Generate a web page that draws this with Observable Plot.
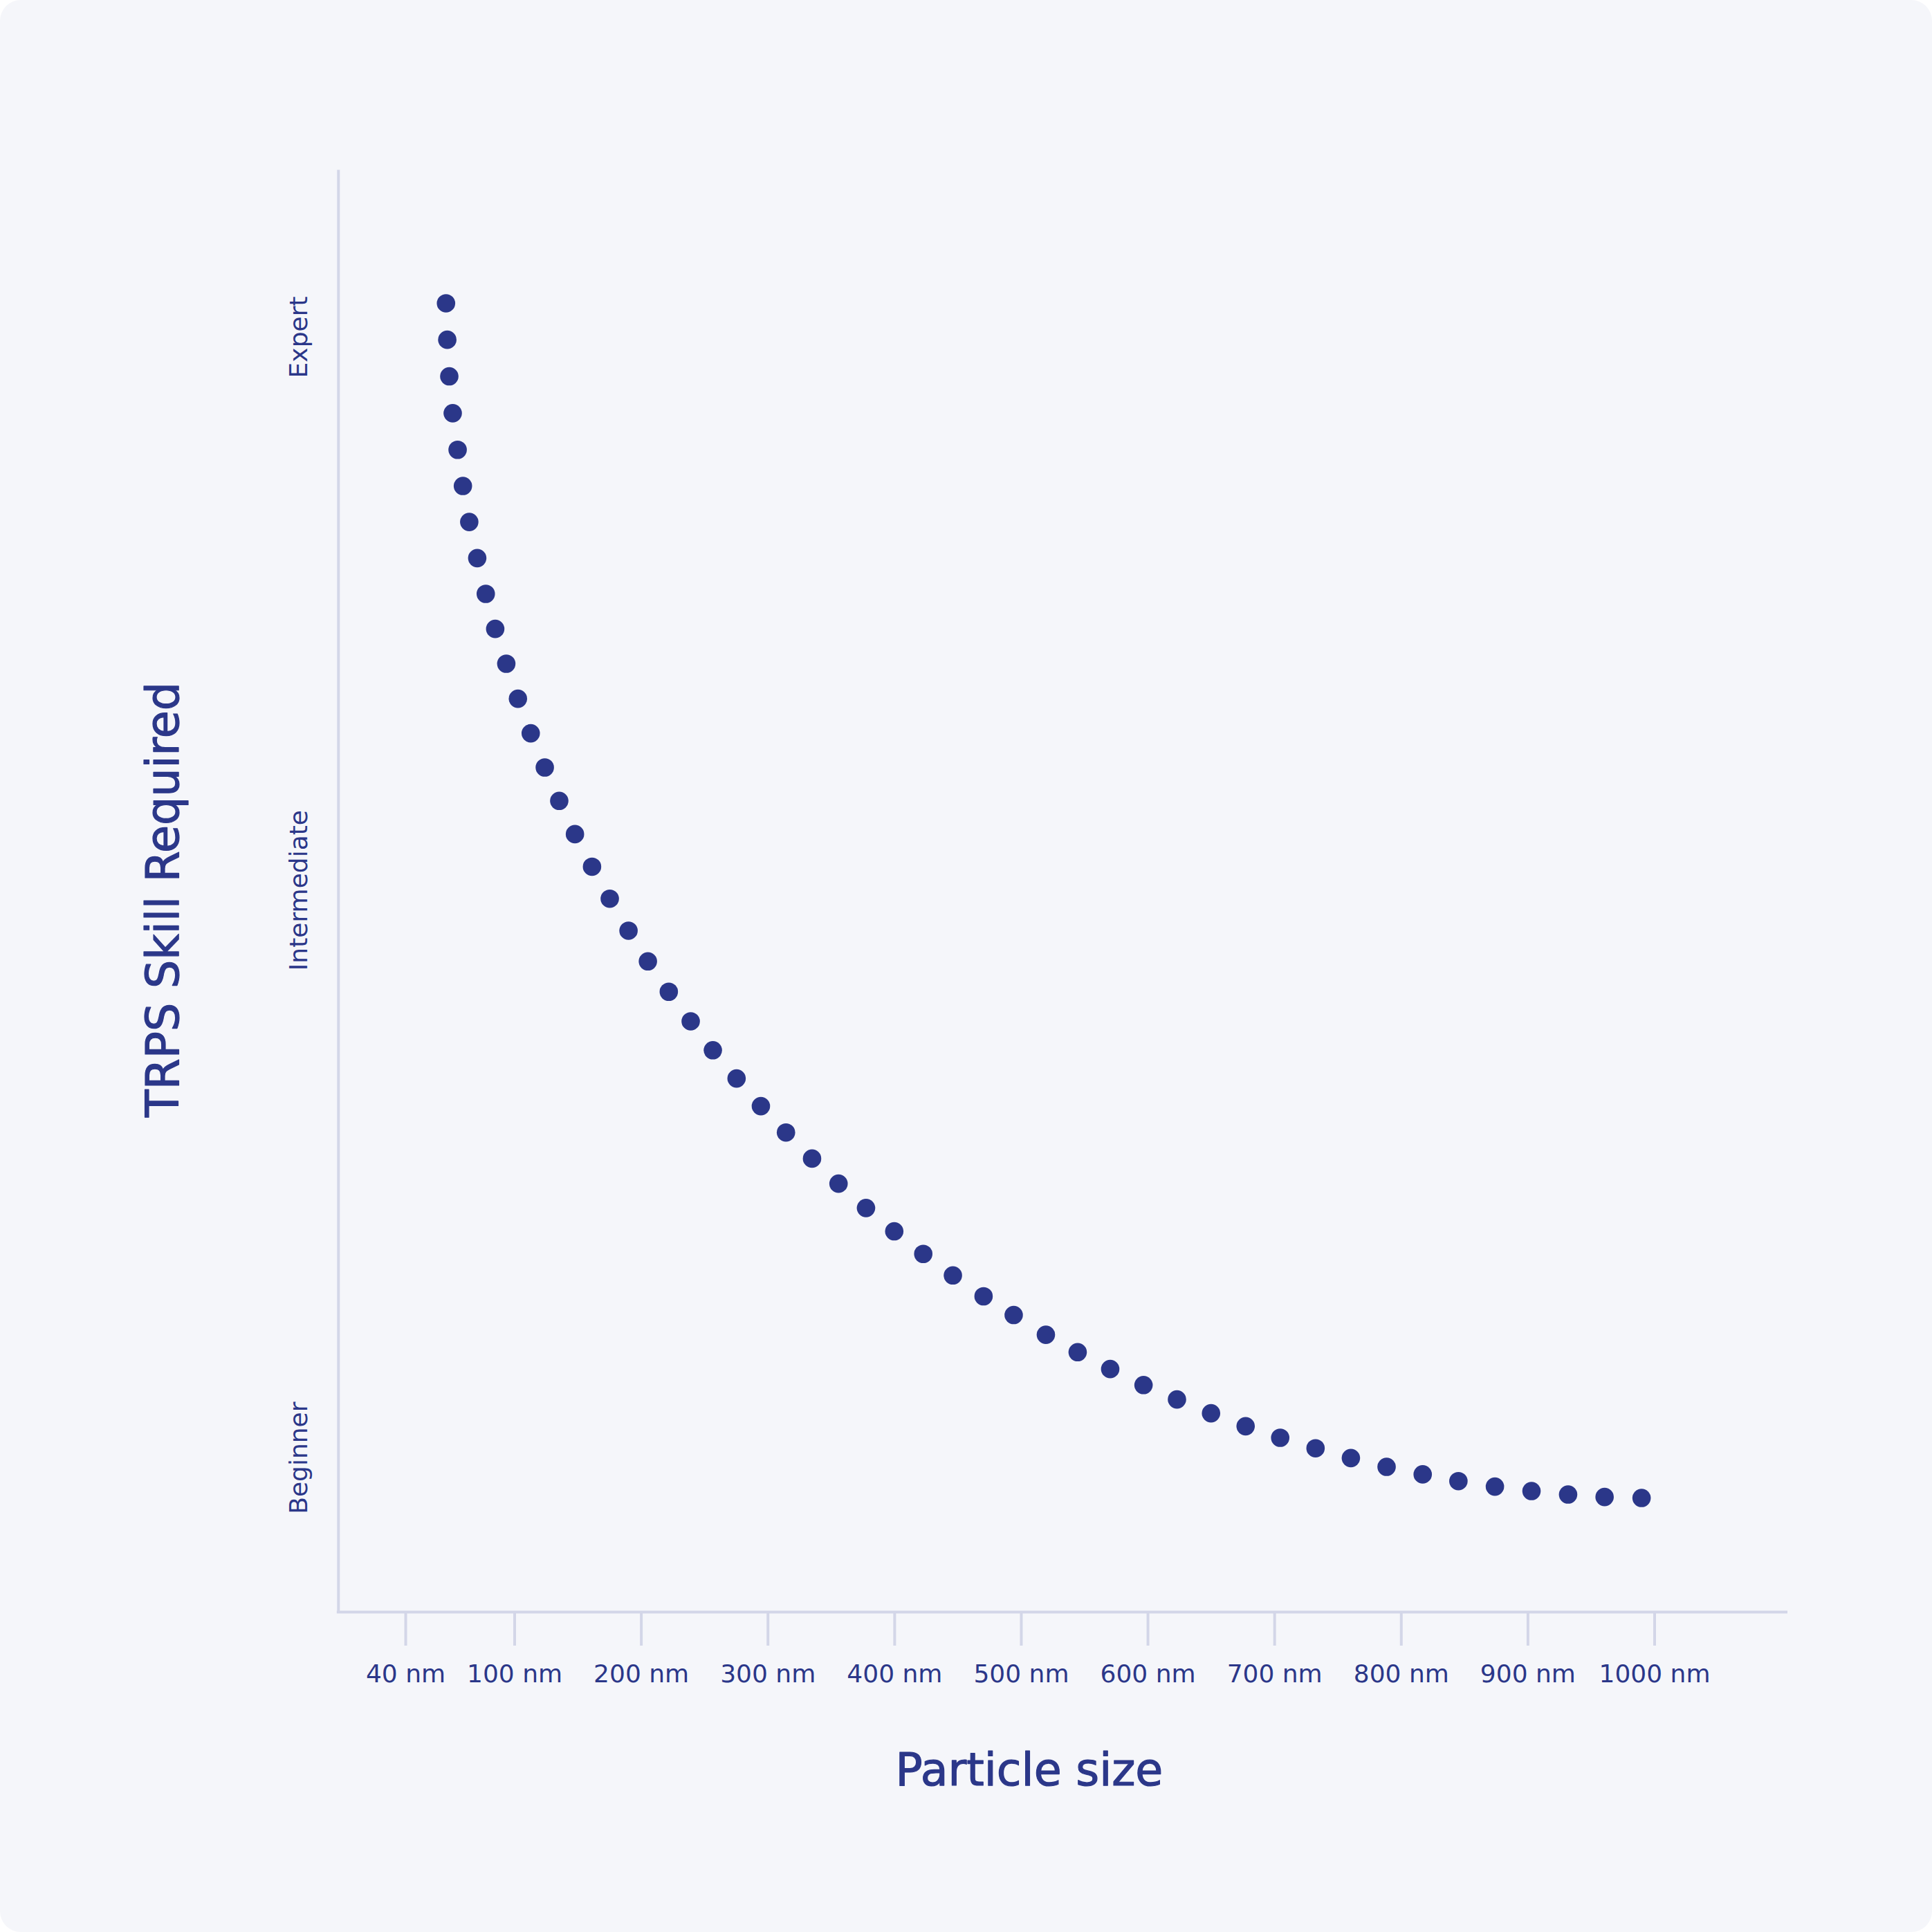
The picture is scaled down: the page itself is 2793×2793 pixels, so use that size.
<!DOCTYPE html>
<html>
<head>
<meta charset="utf-8">
<script src="https://cdn.jsdelivr.net/npm/d3@7"></script>
<script src="https://cdn.jsdelivr.net/npm/@observablehq/plot@0.6"></script>
<style>
  html, body { margin: 0; padding: 0; background: #ffffff; }
  #card { width: 2793px; height: 2793px; background: #f5f6fa; border-radius: 30px; overflow: hidden; }
</style>
</head>
<body>
<div id="card"></div>
<script>
// Particle size (nm) of each dot
const particleSize = [62.2, 62.9, 64.0, 65.9, 68.6, 71.5, 75.0, 79.4, 84.1, 89.3, 95.4,
  102.6, 112.7, 123.8, 135.2, 147.6, 161.1, 175.1, 189.9, 205.2, 221.7, 239.0, 256.5,
  275.2, 294.4, 314.2, 334.8, 355.7, 377.4, 399.7, 422.6, 446.0, 470.2, 494.0, 519.4,
  544.5, 570.2, 596.5, 622.9, 649.8, 677.1, 704.4, 732.3, 760.2, 788.4, 816.9, 845.1,
  873.9, 902.8, 931.7, 960.5, 989.7];
// Skill required (0–100 scale) of each dot
const skillLevel = [90.85, 88.32, 85.78, 83.22, 80.68, 78.17, 75.67, 73.16, 70.68, 68.25,
  65.83, 63.40, 61.00, 58.63, 56.31, 54.00, 51.74, 49.52, 47.30, 45.17, 43.06, 41.01,
  39.00, 37.04, 35.12, 33.29, 31.48, 29.74, 28.05, 26.43, 24.86, 23.37, 21.92, 20.62,
  19.25, 18.04, 16.87, 15.76, 14.76, 13.80, 12.90, 12.10, 11.37, 10.69, 10.08, 9.56,
  9.09, 8.71, 8.40, 8.16, 7.99, 7.92];

const xTickValues = [40, 100, 200, 300, 400, 500, 600, 700, 800, 900, 1000];
const xBreaks = [0, 40, 100, 1000, 1104];
const yTickValues = [10.7, 50.1, 88.5];
const yTickLabels = ["Beginner", "Intermediate", "Expert"];
const xTitle = "Particle size";
const yTitle = "TRPS Skill Required";

const points = particleSize.map((s, i) => ({size: s, skill: skillLevel[i]}));

const W = 2793, H = 2793;
const mL = 488.8, mR = 211, mT = 247.4, mB = 463;
const navy = "#2b3789";
const axisColor = "#d3d6e8";

const chart = Plot.plot({
  width: W,
  height: H,
  marginLeft: mL,
  marginRight: mR,
  marginTop: mT,
  marginBottom: mB,
  style: {background: "transparent", fontFamily: "DejaVu Sans", fontSize: "36px", color: navy},
  x: {type: "linear", domain: xBreaks, range: [mL, 586, 743.5, 2391.5, W - mR], axis: null},
  y: {domain: [0, 100], axis: null},
  marks: [
    Plot.ruleY([0], {stroke: axisColor, strokeWidth: 4, strokeLinecap: "square"}),
    Plot.ruleX([0], {stroke: axisColor, strokeWidth: 4, strokeLinecap: "square"}),
    Plot.axisX(xTickValues, {
      tickFormat: d => `${d} nm`, tickSize: 49, tickPadding: 27,
      stroke: axisColor, strokeWidth: 4, fill: navy, fontSize: 36, label: null
    }),
    Plot.text(yTickValues, {
      y: d => d, text: (d, i) => yTickLabels[i], frameAnchor: "left", dx: -45,
      rotate: -90, textAnchor: "middle", lineAnchor: "bottom", fontSize: 36, fill: navy
    }),
    Plot.dot(points, {x: "size", y: "skill", r: 13.3, fill: navy, stroke: "none"}),
    Plot.text([xTitle], {
      text: d => d, frameAnchor: "bottom", dx: -48, dy: 250.7, lineAnchor: "bottom",
      textAnchor: "middle", fontSize: 65, fill: navy, stroke: navy, strokeWidth: 1.2
    }),
    Plot.text([yTitle], {
      text: d => d, frameAnchor: "left", dx: -231.8, dy: 11.3, rotate: -90,
      lineAnchor: "bottom", textAnchor: "middle", fontSize: 65, fill: navy,
      stroke: navy, strokeWidth: 1.2
    })
  ]
});
document.getElementById("card").appendChild(chart);
</script>
</body>
</html>
